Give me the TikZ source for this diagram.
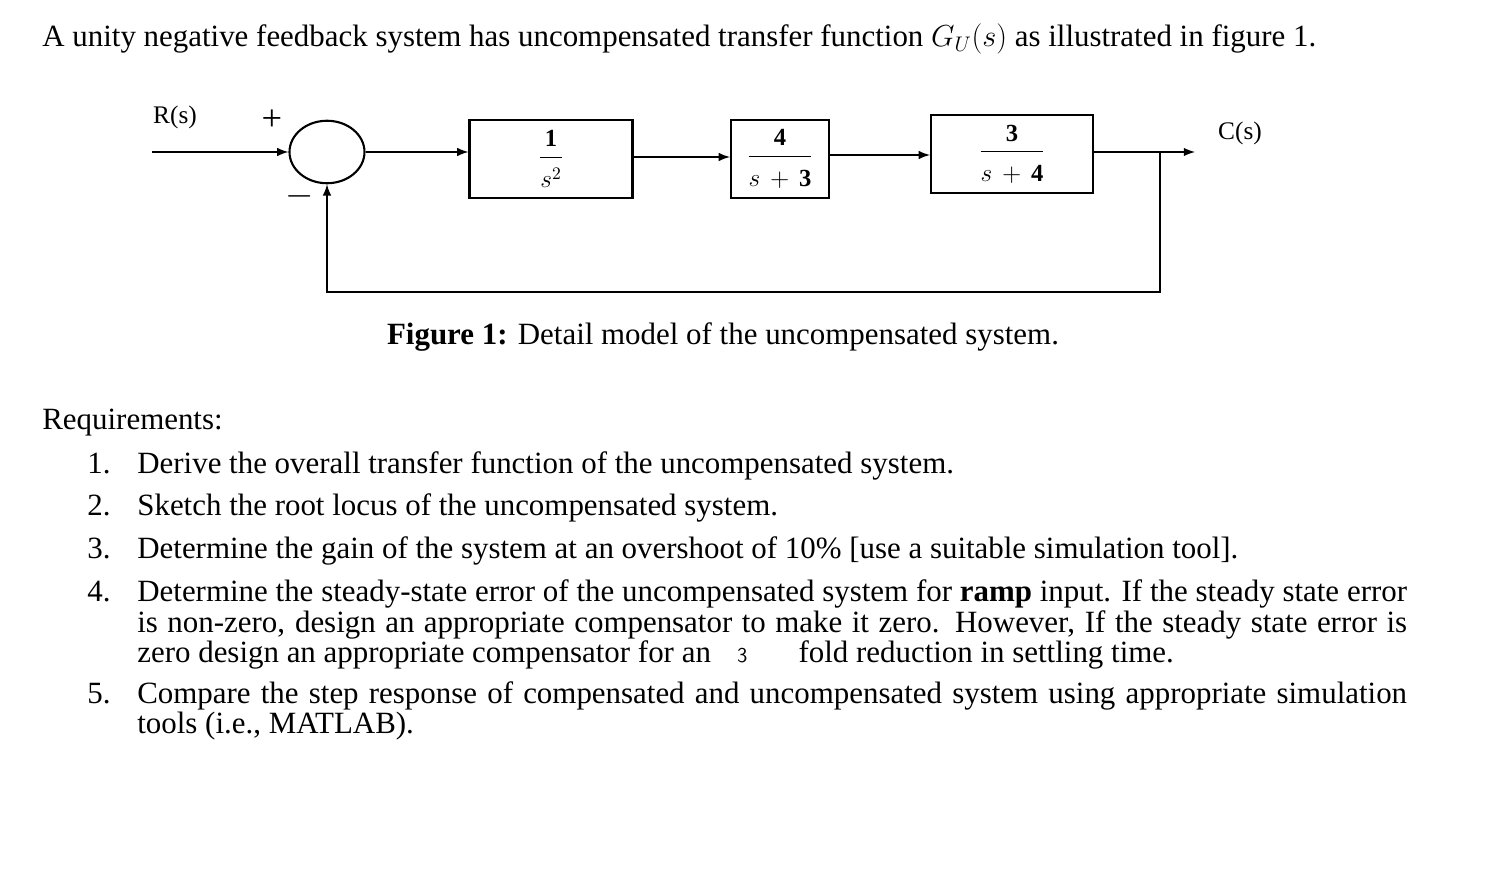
\documentclass[tikz,border=0pt]{standalone}
\usepackage{fontspec}
\setmainfont{Liberation Serif}
\usetikzlibrary{shapes.geometric}
\tikzstyle{block}=[draw, line width=1.2pt, inner sep=0pt]
\tikzstyle{sum}=[draw, ellipse, line width=1.2pt, minimum width=1.5cm, minimum height=1.25cm]
\tikzstyle{sig}=[line width=1.2pt, -latex]
\tikzstyle{frac}=[font=\fontsize{14}{16}\selectfont\bfseries]
\tikzstyle{txt}=[anchor=base west, inner sep=0pt, font=\fontsize{17.6}{19}\selectfont]
\tikzstyle{item}=[anchor=base west, inner sep=0pt, text width=25.4cm, align=justify, font=\fontsize{17.6}{17.3}\selectfont]
\begin{document}
\begin{tikzpicture}[x=0.02cm, y=-0.02cm]
	\useasboundingbox (0,0) rectangle (1512,878);
	% title
	\node [txt] (title) at (42,47) {A unity negative feedback system has uncompensated transfer function $G_U(s)$ as illustrated in figure 1.};
	% diagram nodes
	\coordinate (in) at (152,152);
	\node [sum] (s) at (327,152) {};
	\node [block, frac, minimum width=3.26cm, minimum height=1.56cm] (g1) at (551,159) {$\displaystyle\frac{\mathbf 1}{\rule{0pt}{1.1em}s^2}$};
	\node [block, frac, minimum width=1.96cm, minimum height=1.56cm] (g2) at (780,159) {$\displaystyle\frac{\mathbf 4}{\rule{0pt}{1.1em}s\,+\,\mathbf 3}$};
	\node [block, frac, minimum width=3.24cm, minimum height=1.56cm] (g3) at (1012,154) {$\displaystyle\frac{\mathbf 3}{\rule{0pt}{1.1em}s\,+\,\mathbf 4}$};
	\coordinate (out) at (1195,152);
	\coordinate (fb1) at (1160,292);
	\coordinate (fb2) at (327,292);
	\node at (175,117) {\Large R(s)};
	\node at (272,120) {\huge +};
	\node at (300,196) {\huge $-$};
	\node at (1240,133) {\Large C(s)};
	% arrows
	\draw [line width=1.2pt, -latex] (in) -- (s.west);
	\draw [sig] (s.east) -- (s.east -| g1.west);
	\draw [sig] (g1.east |- 0,157) -- (g2.west |- 0,157);
	\draw [sig] (g2.east |- 0,155) -- (g3.west |- 0,155);
	\draw [sig] (g3.east |- out) -- (out);
	\draw [sig] (1160,152) -- (fb1) -- (fb2) -- (s.south);
	% caption
	\node (cap) at (723,337) {\fontsize{17.6}{19}\selectfont\textbf{Figure 1:} Detail model of the uncompensated system.};
	% requirements
	\node [txt] (req) at (42,430) {Requirements:};
	\node [txt] (n1) at (87,474) {1.};
	\node [txt] (n2) at (87,516) {2.};
	\node [txt] (n3) at (87,559) {3.};
	\node [txt] (n4) at (87,602) {4.};
	\node [txt] (n5) at (87,703) {5.};
	\node [item] (i1) at (137,474) {Derive the overall transfer function of the uncompensated system.};
	\node [item] (i2) at (137,516) {Sketch the root locus of the uncompensated system.};
	\node [item] (i3) at (137,559) {Determine the gain of the system at an overshoot of 10\% [use a suitable simulation tool].};
	\node [item] (i4) at (137,602) {Determine the steady-state error of the uncompensated system for \textbf{ramp} input. If the steady state error is non-zero, design an appropriate compensator to make it zero. However, If the steady state error is zero design an appropriate compensator for an \hspace{0.6em}{\sffamily\large 3}\hspace{1.4em} fold reduction in settling time.};
	\node [item] (i5) at (137,703) {Compare the step response of compensated and uncompensated system using appropriate simulation tools (i.e., MATLAB).};
\end{tikzpicture}
\end{document}
